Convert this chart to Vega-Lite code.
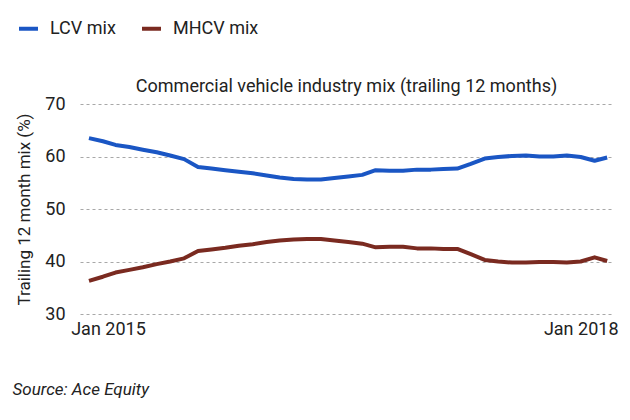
{
  "$schema": "https://vega.github.io/schema/vega-lite/v6.json",
  "autosize": "none",
  "width": 533,
  "height": 210,
  "padding": {"left": 80, "top": 104, "right": 17, "bottom": 106},
  "config": {
    "font": "Roboto",
    "view": {"stroke": null}
  },
  "title": {
    "text": "Commercial vehicle industry mix (trailing 12 months)",
    "fontSize": 18,
    "fontWeight": "normal",
    "color": "#222",
    "anchor": "middle",
    "offset": 9,
    "dy": 88
  },
  "datasets": {
    "mix": [
      {"month": "2015-01", "LCV mix": 63.5, "MHCV mix": 36.3},
      {"month": "2015-02", "LCV mix": 62.9, "MHCV mix": 37.1},
      {"month": "2015-03", "LCV mix": 62.2, "MHCV mix": 37.9},
      {"month": "2015-04", "LCV mix": 61.8, "MHCV mix": 38.4},
      {"month": "2015-05", "LCV mix": 61.3, "MHCV mix": 38.9},
      {"month": "2015-06", "LCV mix": 60.8, "MHCV mix": 39.5},
      {"month": "2015-07", "LCV mix": 60.2, "MHCV mix": 40.0},
      {"month": "2015-08", "LCV mix": 59.5, "MHCV mix": 40.6},
      {"month": "2015-09", "LCV mix": 58.0, "MHCV mix": 42.0},
      {"month": "2015-10", "LCV mix": 57.7, "MHCV mix": 42.3},
      {"month": "2015-11", "LCV mix": 57.4, "MHCV mix": 42.6},
      {"month": "2015-12", "LCV mix": 57.1, "MHCV mix": 43.0},
      {"month": "2016-01", "LCV mix": 56.8, "MHCV mix": 43.3},
      {"month": "2016-02", "LCV mix": 56.4, "MHCV mix": 43.7},
      {"month": "2016-03", "LCV mix": 56.0, "MHCV mix": 44.0},
      {"month": "2016-04", "LCV mix": 55.7, "MHCV mix": 44.2},
      {"month": "2016-05", "LCV mix": 55.6, "MHCV mix": 44.3},
      {"month": "2016-06", "LCV mix": 55.6, "MHCV mix": 44.3},
      {"month": "2016-07", "LCV mix": 55.9, "MHCV mix": 44.0},
      {"month": "2016-08", "LCV mix": 56.2, "MHCV mix": 43.7},
      {"month": "2016-09", "LCV mix": 56.5, "MHCV mix": 43.4},
      {"month": "2016-10", "LCV mix": 57.4, "MHCV mix": 42.7},
      {"month": "2016-11", "LCV mix": 57.3, "MHCV mix": 42.8},
      {"month": "2016-12", "LCV mix": 57.3, "MHCV mix": 42.8},
      {"month": "2017-01", "LCV mix": 57.5, "MHCV mix": 42.5},
      {"month": "2017-02", "LCV mix": 57.5, "MHCV mix": 42.5},
      {"month": "2017-03", "LCV mix": 57.6, "MHCV mix": 42.4},
      {"month": "2017-04", "LCV mix": 57.7, "MHCV mix": 42.4},
      {"month": "2017-05", "LCV mix": 58.6, "MHCV mix": 41.4},
      {"month": "2017-06", "LCV mix": 59.6, "MHCV mix": 40.3},
      {"month": "2017-07", "LCV mix": 59.9, "MHCV mix": 40.0},
      {"month": "2017-08", "LCV mix": 60.1, "MHCV mix": 39.8},
      {"month": "2017-09", "LCV mix": 60.2, "MHCV mix": 39.8},
      {"month": "2017-10", "LCV mix": 60.0, "MHCV mix": 39.9},
      {"month": "2017-11", "LCV mix": 60.0, "MHCV mix": 39.9},
      {"month": "2017-12", "LCV mix": 60.2, "MHCV mix": 39.8},
      {"month": "2018-01", "LCV mix": 59.9, "MHCV mix": 40.0},
      {"month": "2018-02", "LCV mix": 59.2, "MHCV mix": 40.8},
      {"month": "2018-03", "LCV mix": 59.8, "MHCV mix": 40.1}
    ]
  },
  "data": {"name": "mix"},
  "transform": [
    {"fold": ["LCV mix", "MHCV mix"], "as": ["series", "mix"]}
  ],
  "mark": {"type": "line", "strokeWidth": 4, "strokeJoin": "round"},
  "encoding": {
    "x": {
      "field": "month",
      "type": "temporal",
      "scale": {
        "type": "utc",
        "domain": [
          {"year": 2014, "month": 12, "date": 12, "utc": true},
          {"year": 2018, "month": 3, "date": 14, "utc": true}
        ]
      },
      "axis": {
        "values": [
          {"year": 2015, "month": 1, "date": 1, "utc": true},
          {"year": 2018, "month": 1, "date": 1, "utc": true}
        ],
        "labelExpr": "utcFormat(datum.value, '%b %Y')",
        "grid": false,
        "domain": false,
        "ticks": false,
        "labelFontSize": 18,
        "labelColor": "#222",
        "labelPadding": 6,
        "labelBaseline": "top",
        "labelOffset": {"condition": {"test": "utcyear(datum.value) == 2015", "value": 19}, "value": 0},
        "title": "Source: Ace Equity",
        "titleFontSize": 17,
        "titleFontStyle": "italic",
        "titleFontWeight": "normal",
        "titleColor": "#222",
        "titleAnchor": "start",
        "titleAlign": "left",
        "titleBaseline": "alphabetic",
        "titleX": -68,
        "titleY": 80
      }
    },
    "y": {
      "field": "mix",
      "type": "quantitative",
      "scale": {"domain": [30, 70], "nice": false, "zero": false},
      "axis": {
        "values": [30, 40, 50, 60, 70],
        "domain": false,
        "ticks": false,
        "gridDash": [3, 3],
        "gridColor": "#a8a8a8",
        "gridWidth": 1.2,
        "labelFontSize": 18,
        "labelColor": "#222",
        "labelPadding": 15,
        "title": "Trailing 12 month mix (%)",
        "titleFontSize": 17,
        "titleFontWeight": "normal",
        "titleColor": "#222",
        "titleBaseline": "alphabetic",
        "titleAnchor": "middle",
        "titleX": -51,
        "titleY": 105
      }
    },
    "color": {
      "field": "series",
      "type": "nominal",
      "scale": {"domain": ["LCV mix", "MHCV mix"], "range": ["#1a56c4", "#7a2a20"]},
      "legend": {
        "title": null,
        "orient": "none",
        "direction": "horizontal",
        "legendX": -63,
        "legendY": -87,
        "padding": 0,
        "symbolType": "stroke",
        "symbolStrokeWidth": 4,
        "symbolSize": 360,
        "labelFontSize": 18,
        "labelColor": "#222",
        "labelOffset": 10,
        "columnPadding": 18
      }
    }
  }
}
